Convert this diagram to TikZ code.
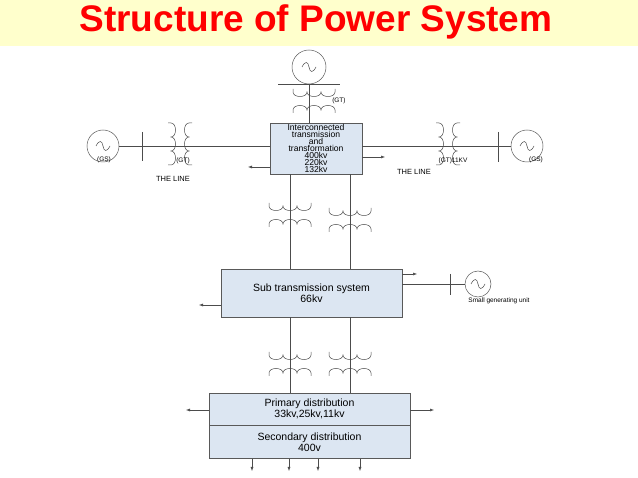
\documentclass[tikz,border=0pt]{standalone}
\usepackage{fontspec}
\setmainfont{Liberation Sans}
\usetikzlibrary{positioning, arrows.meta}
\definecolor{bandyellow}{RGB}{255,255,204}
\definecolor{boxblue}{RGB}{220,230,242}
\begin{document}
\begin{tikzpicture}[x=1pt, y=-1pt, line width=0.5pt]
\tikzset{block/.style =
        {
            rectangle,
            draw=gray!70!black,
            fill=boxblue,
            align=center,
            font=\fontsize{10.5}{9.5}\selectfont,
            inner sep=1pt
        }
}

\tikzset{gen/.style =
        {
            circle,
            draw=gray!70!black,
            minimum size=#1,
            inner sep=0pt
        }
}

\tikzset{lbl/.style = { font=\fontsize{6.5}{7}\selectfont, inner sep=0pt } }

\tikzset{feed/.style = {
            gray!60!black,
            -{Latex[length=4pt, width=3pt]}
        }
}

\tikzset{wire/.style = { gray!60!black } }

\tikzset{xfmr/.pic = {
            \draw[wire] (-21,-12) -- (-21,-9)
              .. controls (-21,-3) and (-7,-3) .. (-7,-9)
              .. controls (-7,-3) and (7,-3) .. (7,-9)
              .. controls (7,-3) and (21,-3) .. (21,-9) -- (21,-12);
            \draw[wire] (-21,12) -- (-21,9)
              .. controls (-21,3) and (-7,3) .. (-7,9)
              .. controls (-7,3) and (7,3) .. (7,9)
              .. controls (7,3) and (21,3) .. (21,9) -- (21,12);
        }
}

\tikzset{sine/.pic = {
            \draw[wire] (-7,0) .. controls (-4,-6) and (-1,-6) .. (0,0) .. controls (1,6) and (4,6) .. (7,0);
        }
}

\useasboundingbox (0,0) rectangle (638,478);
\fill[bandyellow] (0,0) rectangle (638,46);
\node[text=red, font=\bfseries\fontsize{37}{40}\selectfont] (title) at (316,22) {Structure of Power System};

% blocks
\node[block, minimum width=92pt, minimum height=51pt, font=\fontsize{8.6}{7.1}\selectfont] (itt) at (316,148.5)
  {Interconnected\\transmission\\and\\transformation\\400kv\\220kv\\132kv};
\node[block, minimum width=181pt, minimum height=48pt] (sub) at (311.5,293)
  {Sub transmission system\\66kv};
\node[block, minimum width=201pt, minimum height=32pt] (pri) at (309.5,409)
  {Primary distribution\\33kv,25kv,11kv};
\node[block, minimum width=201pt, minimum height=33pt, below=0pt of pri] (sec)
  {Secondary distribution\\400v};

% top generator
\node[gen=34pt] (gtop) at (309,67) {};
\pic at (gtop) {sine};
\draw[wire] (278,84) -- (340,84);
\draw[wire] (gtop.south) -- (itt.north -| gtop);
\pic at (314,101) {xfmr};
\node[lbl, right] (gttop) at (332,101) {(GT)};

% left generator
\node[gen=32pt] (gleft) at (103,146) {};
\pic at (gleft) {sine};
\node[lbl] (gsleft) at (104,160) {(GS)};
\draw[wire] (142,132) -- (142,161);
\draw[wire] (gleft.east) -- (itt.west |- gleft);
\pic[rotate=90] at (180,144) {xfmr};
\node[lbl] (gtleft) at (183,161) {(GT)};
\node[lbl, font=\fontsize{7.5}{8}\selectfont] (lineleft) at (173,179) {THE LINE};
\draw[feed] (itt.west |- 0,167) -- (248,167);

% right generator
\node[gen=32pt] (gright) at (527,146) {};
\pic at (gright) {sine};
\node[lbl] (gsright) at (536,160) {(GS)};
\draw[wire] (498,132) -- (498,162);
\draw[wire] (gright.west) -- (itt.east |- gright);
\pic[rotate=90] at (448,144) {xfmr};
\node[lbl] (gtright) at (453,161) {(GT)11KV};
\node[lbl, font=\fontsize{7.5}{8}\selectfont] (lineright) at (414,172) {THE LINE};
\draw[feed] (itt.east |- 0,157) -- (385,157);

% itt to sub
\foreach \x/\ty/\by in {290/215/364, 350/220/364}
{
  \draw[wire] (itt.south -| \x,0) -- (sub.north -| \x,0);
  \draw[wire] (sub.south -| \x,0) -- (pri.north -| \x,0);
  \pic at (\x,\ty) {xfmr};
  \pic at (\x,\by) {xfmr};
}

% small unit
\node[gen=26pt] (gsmall) at (478,284) {};
\pic at (gsmall) {sine};
\draw[wire] (450,274) -- (450,295);
\draw[wire] (sub.east |- gsmall) -- (gsmall.west);
\node[lbl] (small) at (499,301) {Small generating unit};
\draw[feed] (sub.east |- 0,274) -- (417,274);
\draw[feed] (sub.west |- 0,305) -- (199,305);

% distribution feeders
\draw[feed] (pri.west |- 0,410) -- (186,410);
\draw[feed] (pri.east |- 0,410) -- (434,410);
\foreach \x in {252, 289, 318, 360}
  \draw[feed] (sec.south -| \x,0) -- (\x,471);
\end{tikzpicture}
\end{document}
